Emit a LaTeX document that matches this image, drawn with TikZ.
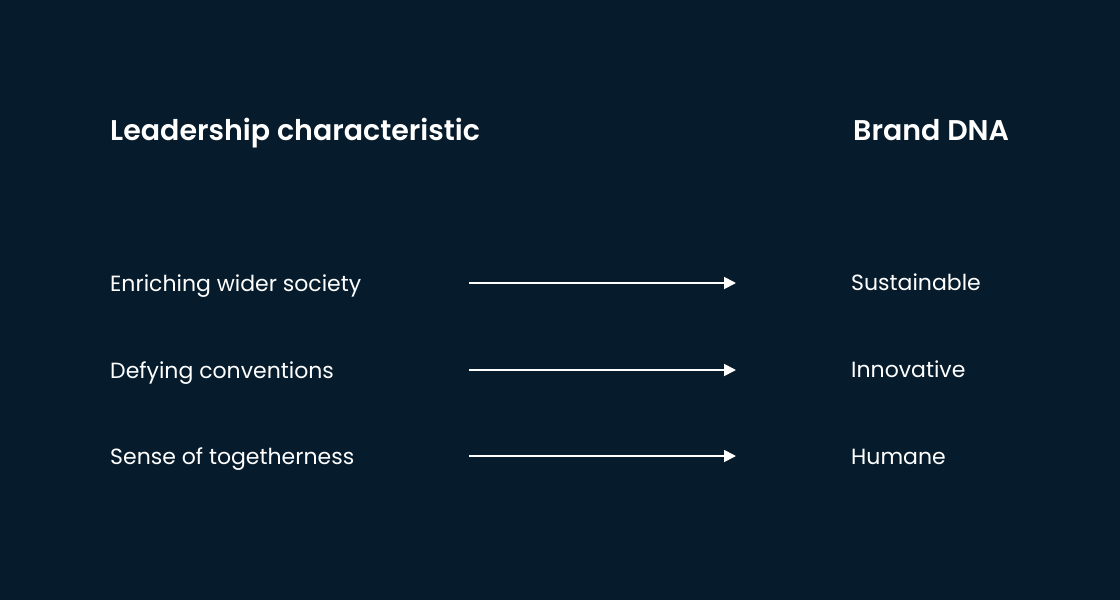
\documentclass[tikz,border=0pt]{standalone}
\usepackage{fontspec}
\setmainfont{Poppins}
\newfontfamily\titlefont{Poppins}[UprightFont=* SemiBold]
\usetikzlibrary{arrows.meta}
\definecolor{bgnavy}{HTML}{061B2B}
\begin{document}
\begin{tikzpicture}[x=1pt,y=-1pt,
  heading/.style={text=white,font=\titlefont\fontsize{28.5}{34}\selectfont,inner sep=0pt,anchor=base west},
  item/.style={text=white,font=\fontsize{22}{26}\selectfont,inner sep=0pt,anchor=base west},
  link/.style={white,line width=1.8pt,-{Triangle[length=12pt,width=12pt]}}]
\fill[bgnavy] (0,0) rectangle (1120,600);
\useasboundingbox (0,0) rectangle (1120,600);
\node[heading] (hl) at (110,140) {Leadership characteristic};
\node[heading] (hr) at (853,140) {Brand DNA};
\node[item] (l1) at (110,291) {Enriching wider society};
\node[item] (l2) at (110,378) {Defying conventions};
\node[item] (l3) at (110,464) {Sense of togetherness};
\node[item] (r1) at (851,290) {Sustainable};
\node[item] (r2) at (851,377) {Innovative};
\node[item] (r3) at (851,464) {Humane};
\coordinate (a1s) at (469,283); \coordinate (a1e) at (736,283);
\coordinate (a2s) at (469,370); \coordinate (a2e) at (736,370);
\coordinate (a3s) at (469,456); \coordinate (a3e) at (736,456);
\draw[link] (a1s) -- (a1e);
\draw[link] (a2s) -- (a2e);
\draw[link] (a3s) -- (a3e);
\end{tikzpicture}
\end{document}
